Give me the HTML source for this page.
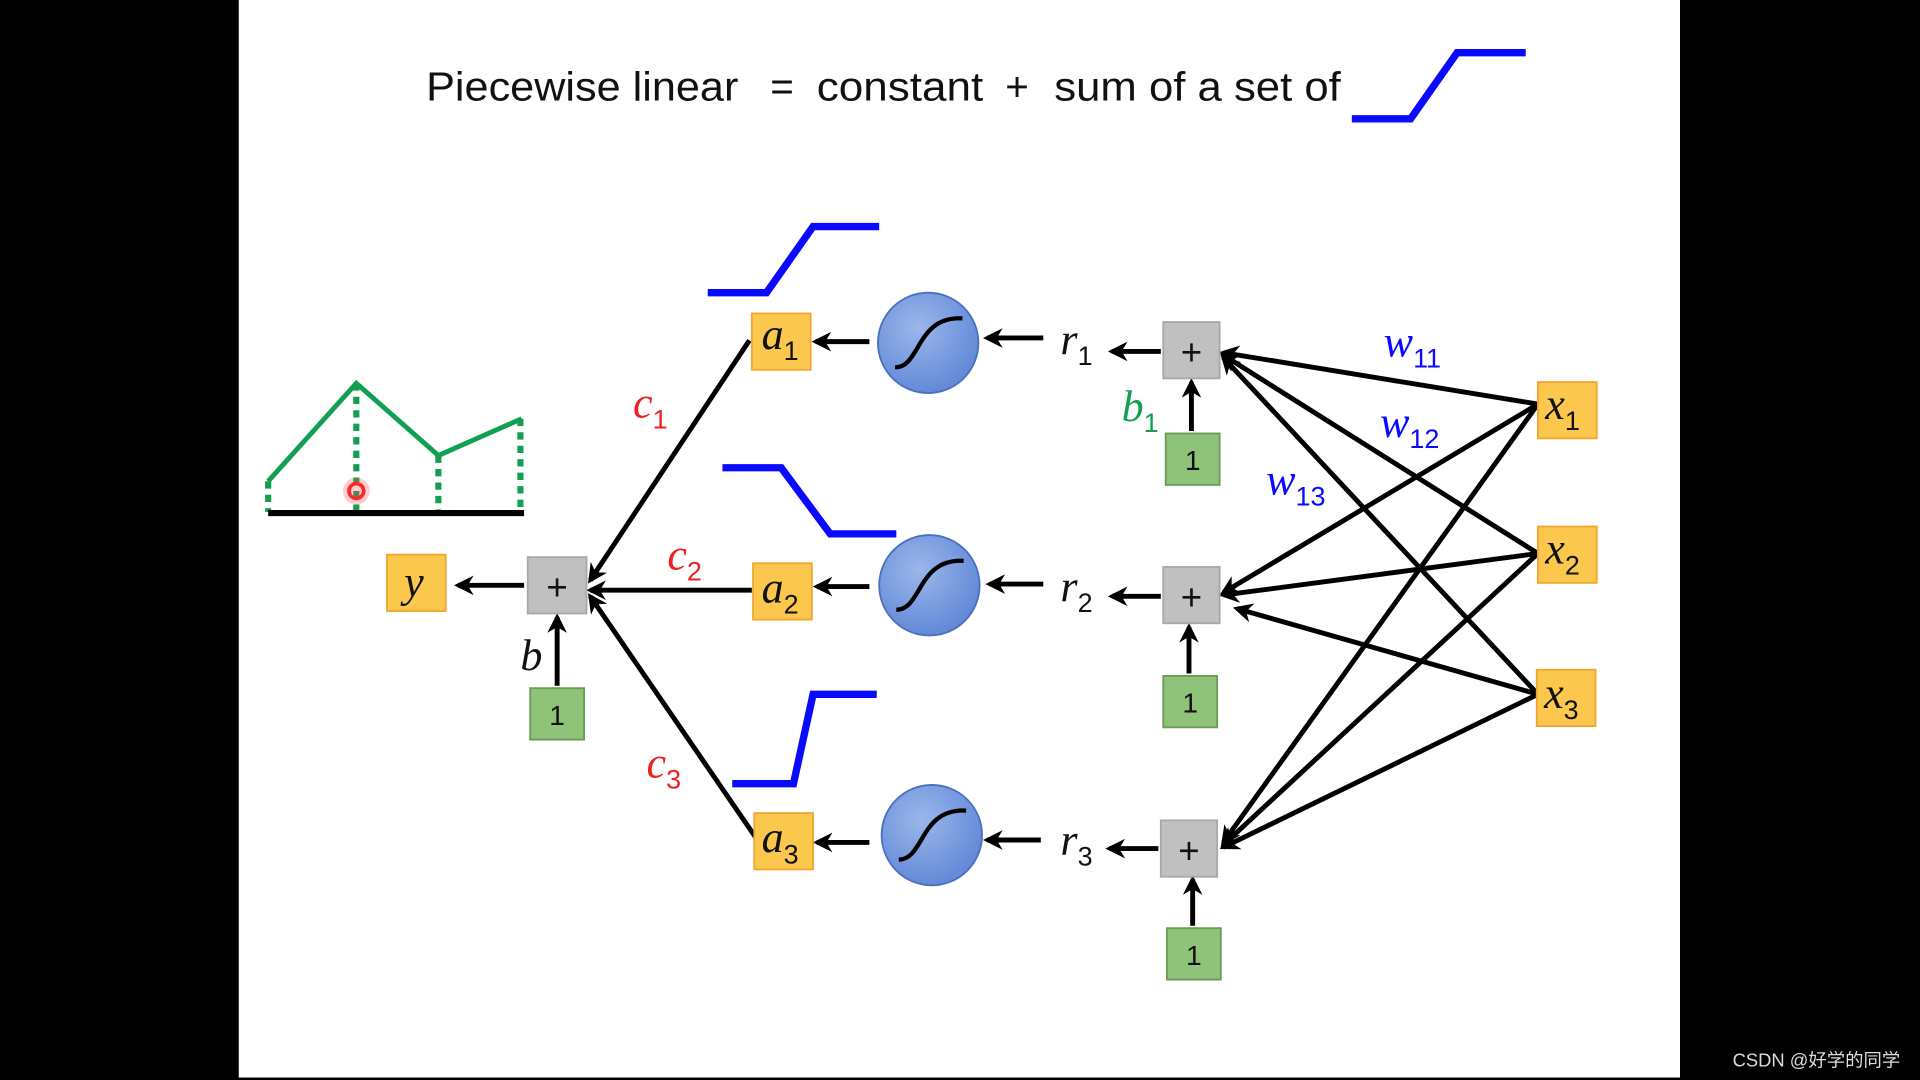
<!DOCTYPE html>
<html><head><meta charset="utf-8"><style>
html,body{margin:0;padding:0;background:#000;width:1920px;height:1080px;overflow:hidden}
svg{display:block}
.s{font-family:"Liberation Sans",sans-serif}
.m{font-family:"Liberation Serif",serif;font-style:italic}
.m tspan{font-family:"Liberation Sans",sans-serif;font-style:normal}
</style></head><body>
<svg width="1920" height="1080" viewBox="0 0 1568 882" xmlns="http://www.w3.org/2000/svg">
<defs>
<marker id="ah2" viewBox="0 0 10 10" markerWidth="16" markerHeight="16" refX="8" refY="5" orient="auto" markerUnits="userSpaceOnUse"><path d="M0,0 L10,5 L0,10 L3,5 z" fill="#000"/></marker>
<radialGradient id="cg" cx="0.4" cy="0.35" r="0.7"><stop offset="0" stop-color="#9bb6ea"/><stop offset="1" stop-color="#5f86d6"/></radialGradient>
</defs>
<rect x="0" y="0" width="1568" height="882" fill="#000"/>
<rect x="195" y="0" width="1177" height="880" fill="#fff"/>
<g class="s" font-size="33" fill="#111">
<text x="348" y="82" textLength="255" lengthAdjust="spacingAndGlyphs">Piecewise linear</text>
<text x="629" y="82">=</text>
<text x="667" y="82" textLength="136" lengthAdjust="spacingAndGlyphs">constant</text>
<text x="821" y="82">+</text>
<text x="861" y="82" textLength="234" lengthAdjust="spacingAndGlyphs">sum of a set of</text>
</g>
<g fill="none" stroke="#0a0aff" stroke-width="6">
<polyline points="1104,97 1152,97 1190,43 1246,43"/>
<polyline points="578,239 626,239 664,185 718,185"/>
<polyline points="590,382 638,382 678,436 732,436"/>
<polyline points="598,640 648,640 664,567 716,567"/>
</g>
<g stroke="#12a050" fill="none">
<polyline points="219,393 291,313 358,372 426,342" stroke-width="4"/>
<g stroke-width="5" stroke-dasharray="6,5">
<line x1="219" y1="393" x2="219" y2="418"/><line x1="291" y1="313" x2="291" y2="418"/>
<line x1="358" y1="372" x2="358" y2="418"/><line x1="425" y1="342" x2="425" y2="418"/>
</g></g>
<line x1="219" y1="419" x2="428" y2="419" stroke="#000" stroke-width="5"/>
<circle cx="291" cy="401" r="6" fill="none" stroke="#ff2020" stroke-width="3"/>
<circle cx="291" cy="401" r="11" fill="#ff4040" opacity="0.25"/>
<g stroke="#000" stroke-width="4" fill="none" marker-end="url(#ah2)">
<line x1="1256" y1="330" x2="999" y2="288"/>
<line x1="1256" y1="330" x2="999" y2="484"/>
<line x1="1256" y1="330" x2="999" y2="688"/>
<line x1="1256" y1="452" x2="999" y2="290"/>
<line x1="1256" y1="452" x2="999" y2="486"/>
<line x1="1256" y1="452" x2="999" y2="690"/>
<line x1="1256" y1="567" x2="999" y2="292"/>
<line x1="1256" y1="567" x2="1010" y2="497"/>
<line x1="1256" y1="567" x2="999" y2="692"/>
<line x1="612" y1="278" x2="482" y2="474"/>
<line x1="614" y1="482" x2="482" y2="482"/>
<line x1="620" y1="688" x2="482" y2="487"/>
<line x1="428" y1="478" x2="374" y2="478"/>
<line x1="710" y1="279" x2="666" y2="279"/>
<line x1="710" y1="479" x2="667" y2="479"/>
<line x1="710" y1="688" x2="667" y2="688"/>
<line x1="852" y1="276" x2="806" y2="276"/>
<line x1="852" y1="477" x2="808" y2="477"/>
<line x1="850" y1="686" x2="806" y2="686"/>
<line x1="948" y1="287" x2="908" y2="287"/>
<line x1="948" y1="487" x2="908" y2="487"/>
<line x1="946" y1="693" x2="906" y2="693"/>
<line x1="455" y1="560" x2="455" y2="504"/>
<line x1="973" y1="352" x2="973" y2="312"/>
<line x1="971" y1="550" x2="971" y2="512"/>
<line x1="974" y1="756" x2="974" y2="718"/>
</g>
<g fill="#fbc84d" stroke="#f0a630" stroke-width="1.5">
<rect x="316" y="453" width="48" height="46"/>
<rect x="614" y="256" width="48" height="46"/>
<rect x="615" y="460" width="48" height="46"/>
<rect x="616" y="664" width="48" height="46"/>
<rect x="1256" y="312" width="48" height="46"/>
<rect x="1256" y="430" width="48" height="46"/>
<rect x="1255" y="547" width="48" height="46"/>
</g>
<g fill="#c0c0c0" stroke="#a8a8a8" stroke-width="1.5">
<rect x="431" y="455" width="48" height="46"/>
<rect x="950" y="263" width="46" height="46"/>
<rect x="950" y="463" width="46" height="46"/>
<rect x="948" y="670" width="46" height="46"/>
</g>
<g class="s" font-size="30" text-anchor="middle" fill="#111">
<text x="455" y="490">+</text><text x="973" y="298">+</text><text x="973" y="498">+</text><text x="971" y="705">+</text>
</g>
<g fill="#8fc37a" stroke="#6a9c55" stroke-width="1.5">
<rect x="433" y="562" width="44" height="42"/>
<rect x="952" y="354" width="44" height="42"/>
<rect x="950" y="552" width="44" height="42"/>
<rect x="953" y="758" width="44" height="42"/>
</g>
<g class="s" font-size="23" text-anchor="middle" fill="#111">
<text x="455" y="592">1</text><text x="974" y="384">1</text><text x="972" y="582">1</text><text x="975" y="788">1</text>
</g>
<g stroke="#4a70c0" stroke-width="1.5" fill="url(#cg)">
<circle cx="758" cy="280" r="41"/><circle cx="759" cy="478" r="41"/><circle cx="761" cy="682" r="41"/>
</g>
<g fill="none" stroke="#000" stroke-width="3.5">
<path d="M731,300 C752,300 748,258 786,260"/>
<path d="M732,498 C753,498 749,456 787,458"/>
<path d="M734,702 C755,702 751,660 789,662"/>
</g>
<g class="m" font-size="36" fill="#111">
<text x="330" y="487">y</text>
<text x="622" y="285">a<tspan font-size="22" dy="9">1</tspan></text>
<text x="622" y="492">a<tspan font-size="22" dy="9">2</tspan></text>
<text x="622" y="696">a<tspan font-size="22" dy="9">3</tspan></text>
<text x="1262" y="342">x<tspan font-size="22" dy="9">1</tspan></text>
<text x="1262" y="460">x<tspan font-size="22" dy="9">2</tspan></text>
<text x="1261" y="578">x<tspan font-size="22" dy="9">3</tspan></text>
<text x="866" y="289">r<tspan font-size="22" dy="9">1</tspan></text>
<text x="866" y="491">r<tspan font-size="22" dy="9">2</tspan></text>
<text x="866" y="698">r<tspan font-size="22" dy="9">3</tspan></text>
<text x="425" y="547">b</text>
</g>
<g class="m" font-size="36" fill="#ee2020">
<text x="517" y="341">c<tspan font-size="22" dy="9">1</tspan></text>
<text x="545" y="465">c<tspan font-size="22" dy="9">2</tspan></text>
<text x="528" y="635">c<tspan font-size="22" dy="9">3</tspan></text>
</g>
<text class="m" x="916" y="344" font-size="36" fill="#12a050">b<tspan font-size="22" dy="9">1</tspan></text>
<g class="m" font-size="36" fill="#0a0aff">
<text x="1130" y="291">w<tspan font-size="22" dy="9">11</tspan></text>
<text x="1127" y="357">w<tspan font-size="22" dy="9">12</tspan></text>
<text x="1034" y="404">w<tspan font-size="22" dy="9">13</tspan></text>
</g>
<text x="1415" y="871" style="font-family:'Liberation Sans','Noto Sans CJK SC',sans-serif" font-size="15" fill="#ddd">CSDN @好学的同学</text>
</svg>
</body></html>
